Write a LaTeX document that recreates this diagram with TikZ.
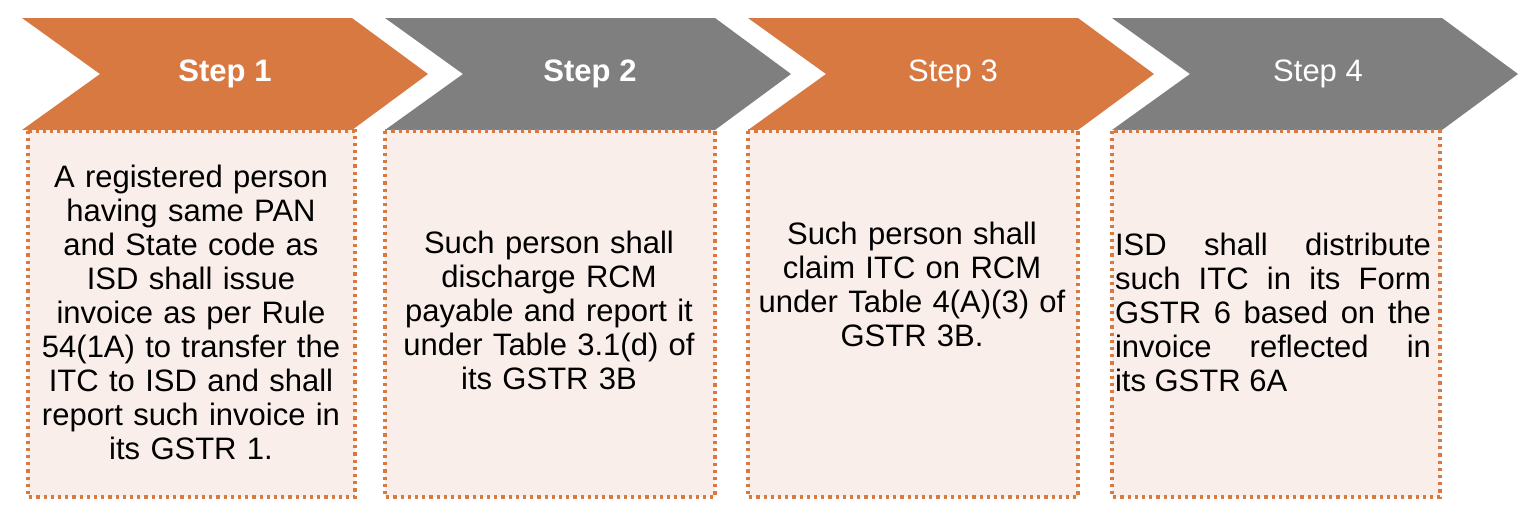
\documentclass[tikz,border=0pt]{standalone}
\usepackage{fontspec}
\setmainfont{Liberation Sans}
\definecolor{orng}{HTML}{D97942}
\definecolor{gry}{HTML}{7F7F7F}
\definecolor{pnk}{HTML}{F9EEEA}
\begin{document}
\begin{tikzpicture}[x=0.5pt,y=-0.5pt]

  \tikzstyle{stepbox}=[fill=pnk,draw=orng,line width=1.6pt,dotted]
  \tikzstyle{texto}=[text width=166pt,font=\fontsize{15.5}{17}\selectfont,inner sep=0pt]
  \tikzstyle{head}=[text=white,font=\fontsize{15.5}{18}\selectfont]

  \useasboundingbox (0,0) rectangle (1536,515);

  % chevrons
  \foreach \x/\c in {22/orng,385/gry,748/orng,1112/gry}
    \fill[\c] (\x,18) -- (\x+330,18) -- (\x+406,74) -- (\x+330,130) -- (\x,130) -- (\x+78,74) -- cycle;

  \node [head] (s1) at (225,74) {\bfseries Step 1};
  \node [head] (s2) at (590,74) {\bfseries Step 2};
  \node [head] (s3) at (953,74) {Step 3};
  \node [head] (s4) at (1318,74) {Step 4};

  % boxes
  \draw [stepbox] (28,131) rectangle (355,497);
  \draw [stepbox] (385,131) rectangle (715,497);
  \draw [stepbox] (748,131) rectangle (1078,497);
  \draw [stepbox] (1112,131) rectangle (1440,497);

  \node [texto,align=center] (b1) at (191,312) {A registered person\\ having same PAN\\ and State code as\\ ISD shall issue\\ invoice as per Rule\\ 54(1A) to transfer the\\ ITC to ISD and shall\\ report such invoice in\\ its GSTR 1.};
  \node [texto,align=center] (b2) at (549,310) {Such person shall\\ discharge RCM\\ payable and report it\\ under Table 3.1(d) of\\ its GSTR 3B};
  \node [texto,align=center] (b3) at (912,284) {Such person shall\\ claim ITC on RCM\\ under Table 4(A)(3) of\\ GSTR 3B.};
  \node [texto,align=justify,text width=158pt] (b4) at (1273,312) {ISD shall distribute\linebreak such ITC in its Form\linebreak GSTR 6 based on the\linebreak invoice reflected in\linebreak its GSTR 6A};

\end{tikzpicture}
\end{document}
